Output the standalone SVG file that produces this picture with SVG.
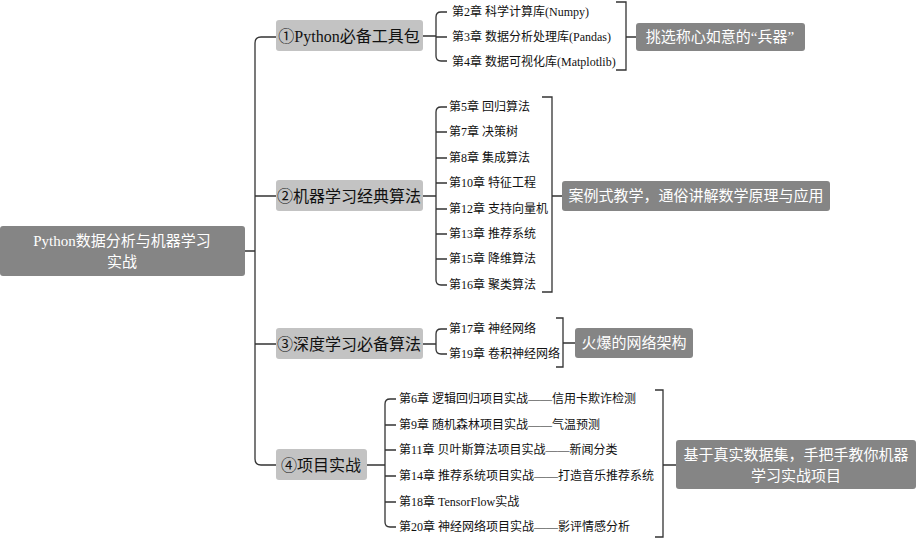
<svg xmlns="http://www.w3.org/2000/svg" width="921" height="538" viewBox="0 0 921 538">
<style>
text{font-family:"Liberation Serif","Noto Sans CJK SC",serif;}
.l1{fill:#c3c3c3}
.dk{fill:#858585}
.t1{font-size:16px;fill:#111;text-anchor:middle;dominant-baseline:central}
.tw{font-size:15px;fill:#fff;text-anchor:middle;dominant-baseline:central}
.it{font-size:12px;fill:#111;dominant-baseline:central}
.ln{fill:none;stroke:#333;stroke-width:1.3}
</style>
<rect width="921" height="538" fill="#fff"/>
<g id="connectors" class="ln">
<path d="M245 251H255M276 37H261Q255 37 255 43V459Q255 465 261 465H276M255 196H276M255 344H276"/>
<path d="M423 36H436M447 12H441Q436 12 436 17V56Q436 61 441 61H447M436 37H447"/>
<path d="M616 2H626V70H616M626 37H636"/>
<path d="M423 196H436M447 107H441Q436 107 436 112V280Q436 285 441 285H447M436 132H447M436 158H447M436 183H447M436 209H447M436 234H447M436 259H447"/>
<path d="M542 97H552V292H542M552 196H562"/>
<path d="M423 344H436M447 329H441Q436 329 436 334V349Q436 354 441 354H447"/>
<path d="M556 318H563V367H556M563 343H575"/>
<path d="M367 465H385M396 399H390Q385 399 385 404V522Q385 527 390 527H396M385 425H396M385 450H396M385 476H396M385 502H396"/>
<path d="M655 390H663V537H655M663 465H676"/>
</g>
<g id="root"><rect x="0" y="226" width="245" height="50" rx="3" class="dk"/><text class="tw" x="122" y="241">Python数据分析与机器学习</text><text class="tw" x="122" y="262">实战</text></g>
<g id="n1"><rect x="276" y="20" width="147" height="31" rx="3" class="l1"/><text class="t1" x="349" y="36">①Python必备工具包</text></g>
<g id="n2"><rect x="276" y="180" width="147" height="31" rx="3" class="l1"/><text class="t1" x="349" y="196">②机器学习经典算法</text></g>
<g id="n3"><rect x="276" y="328" width="147" height="31" rx="3" class="l1"/><text class="t1" x="349" y="344">③深度学习必备算法</text></g>
<g id="n4"><rect x="276" y="449" width="91" height="31" rx="3" class="l1"/><text class="t1" x="321" y="465">④项目实战</text></g>
<g id="items1"><text class="it" x="452" y="12">第2章 科学计算库(Numpy)</text><text class="it" x="452" y="37">第3章 数据分析处理库(Pandas)</text><text class="it" x="452" y="62">第4章 数据可视化库(Matplotlib)</text></g>
<g id="items2"><text class="it" x="449" y="107">第5章 回归算法</text><text class="it" x="449" y="132">第7章 决策树</text><text class="it" x="449" y="158">第8章 集成算法</text><text class="it" x="449" y="183">第10章 特征工程</text><text class="it" x="449" y="209">第12章 支持向量机</text><text class="it" x="449" y="234">第13章 推荐系统</text><text class="it" x="449" y="259">第15章 降维算法</text><text class="it" x="449" y="285">第16章 聚类算法</text></g>
<g id="items3"><text class="it" x="449" y="329">第17章 神经网络</text><text class="it" x="449" y="354">第19章 卷积神经网络</text></g>
<g id="items4"><text class="it" x="399" y="399">第6章 逻辑回归项目实战——信用卡欺诈检测</text><text class="it" x="399" y="425">第9章 随机森林项目实战——气温预测</text><text class="it" x="399" y="450">第11章 贝叶斯算法项目实战——新闻分类</text><text class="it" x="399" y="476">第14章 推荐系统项目实战——打造音乐推荐系统</text><text class="it" x="399" y="502">第18章 TensorFlow实战</text><text class="it" x="399" y="527">第20章 神经网络项目实战——影评情感分析</text></g>
<g id="s1"><rect x="636" y="23" width="169" height="28" rx="3" class="dk"/><text class="tw" x="720" y="37">挑选称心如意的“兵器”</text></g>
<g id="s2"><rect x="562" y="181" width="268" height="30" rx="3" class="dk"/><text class="tw" x="696" y="196">案例式教学，通俗讲解数学原理与应用</text></g>
<g id="s3"><rect x="575" y="328" width="118" height="30" rx="3" class="dk"/><text class="tw" x="634" y="343">火爆的网络架构</text></g>
<g id="s4"><rect x="676" y="440" width="240" height="49" rx="3" class="dk"/><text class="tw" x="796" y="455">基于真实数据集，手把手教你机器</text><text class="tw" x="796" y="476">学习实战项目</text></g>
</svg>
